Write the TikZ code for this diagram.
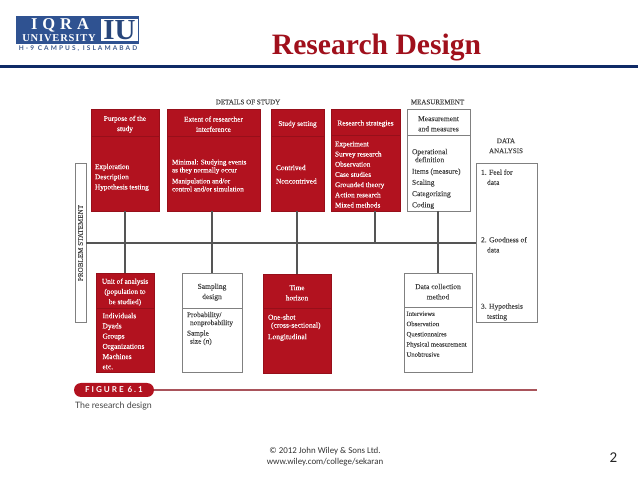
\documentclass[tikz,border=0pt]{standalone}
\usepackage{fontspec}
\setmainfont{Liberation Serif}
\newfontfamily\bodyf[FakeBold=0.1]{Liberation Serif}
\newfontfamily\carl{Carlito}
\newfontfamily\lat{Lato}
\definecolor{redb}{HTML}{B2121F}
\definecolor{redl}{HTML}{A9545B}
\definecolor{navy}{HTML}{0F2A66}
\definecolor{logob}{HTML}{2F5291}
\definecolor{conn}{HTML}{555555}
\definecolor{edge}{HTML}{808080}
\definecolor{txt}{HTML}{444444}
\newcommand{\dn}{\rule{0pt}{8.5pt}}
\tikzset{
  x=1pt,y=-1pt,
  every node/.style={inner sep=0pt,outer sep=0pt},
  redbox/.style={fill=redb,draw=redb!85!black,line width=0.7pt,anchor=north west,text=white,align=center,font=\bodyf\fontsize{7.3}{10.2}\selectfont},
  whitebox/.style={fill=white,draw=edge,line width=0.8pt,anchor=north west,text=txt,align=center,font=\bodyf\fontsize{7.5}{10.2}\selectfont},
  redtext/.style={anchor=north west,align=left,text=white,font=\bodyf\fontsize{7.25}{10.2}\selectfont},
  graytext/.style={anchor=north west,align=left,text=txt,font=\bodyf\fontsize{7.5}{10.2}\selectfont},
  headtext/.style={text=txt,align=center,font=\bodyf\fontsize{7}{10}\selectfont},
  link/.style={draw=conn,line width=1.3pt},
}
\begin{document}
\begin{tikzpicture}
\useasboundingbox (0,0) rectangle (638,478);
% header
\node[fill=logob,minimum width=123pt,minimum height=28pt,anchor=north west] (logo) at (16,16.3) {};
\node[fill=white,draw=logob,line width=0.8pt,minimum width=38pt,minimum height=23pt,anchor=north west] (logoiu) at (100.5,18.5) {\textcolor{logob!85!black}{\fontsize{29}{29}\selectfont\bfseries IU}};
\node[text=white] (iqra) at (60,25.5) {\fontsize{16.5}{16}\selectfont\bfseries\addfontfeature{LetterSpace=30}IQRA};
\node[text=white] (univ) at (59,38.5) {\fontsize{10.5}{10}\selectfont\bfseries\addfontfeature{LetterSpace=8}UNIVERSITY};
\node[text=logob!80!gray] (campus) at (78,48.3) {\lat\fontsize{6.5}{6}\selectfont\bfseries\addfontfeature{LetterSpace=32}H-9 CAMPUS, ISLAMABAD};
\fill[navy] (0,65) rectangle (638,68);
\node[text=redb!90!black] (title) at (376.5,47.5) {\fontsize{29.6}{29}\selectfont\bfseries Research Design};
% column heads
\node[headtext] (details) at (248,102) {DETAILS OF STUDY};
\node[headtext] (meas) at (437.5,102) {MEASUREMENT};
\node[headtext,anchor=north] (dataan) at (506,138.5) {DATA\\ANALYSIS};
% upper boxes
\node[redbox,minimum width=68pt,minimum height=27pt] (purposeH) at (91,109) {\dn Purpose of the\\study};
\node[redbox,minimum width=68pt,minimum height=75pt] (purposeB) at (91,136) {};
\node[redbox,minimum width=93pt,minimum height=27pt] (extentH) at (167,109) {\dn Extent of researcher\\interference};
\node[redbox,minimum width=93pt,minimum height=75pt] (extentB) at (167,136) {};
\node[redbox,minimum width=53pt,minimum height=27pt] (settingH) at (271,109) {\dn Study setting};
\node[redbox,minimum width=53pt,minimum height=75pt] (settingB) at (271,136) {};
\node[redbox,minimum width=69pt,minimum height=26pt] (stratH) at (331,109) {\dn Research strategies};
\node[redbox,minimum width=69pt,minimum height=76pt] (stratB) at (331,135) {};
\node[whitebox,minimum width=63pt,minimum height=26pt] (measH) at (407,109) {\dn Measurement\\and measures};
\node[whitebox,minimum width=63pt,minimum height=76pt] (measB) at (407,135) {};
\node[redtext] (purposeT) at (95,164) {Exploration\\Description\\Hypothesis testing};
\node[redtext,font=\bodyf\fontsize{7.1}{8}\selectfont] (extentT1) at (172,159.5) {Minimal: Studying events\\as they normally occur};
\node[redtext,font=\bodyf\fontsize{7.1}{8}\selectfont] (extentT2) at (172,178.5) {Manipulation and/or\\control and/or simulation};
\node[redtext,font=\bodyf\fontsize{7.4}{13.5}\selectfont] (settingT) at (276,165) {Contrived\\Noncontrived};
\node[redtext] (stratT) at (335,141.5) {Experiment\\Survey research\\Observation\\Case studies\\Grounded theory\\Action research\\Mixed methods};
\node[graytext,font=\bodyf\fontsize{7.5}{8}\selectfont] (measT1) at (412,149) {Operational\\\hspace*{3pt}definition};
\node[graytext,font=\bodyf\fontsize{7.5}{11.2}\selectfont] (measT2) at (412,168.5) {Items (measure)\\Scaling\\Categorizing\\Coding};
% side boxes
\node[whitebox,minimum width=61pt,minimum height=159pt] (analysis) at (476,163) {};
\node[graytext] (an1) at (481,169.5) {1. Feel for\\\hspace*{6pt}data};
\node[graytext] (an2) at (481,237) {2. Goodness of\\\hspace*{6pt}data};
\node[graytext] (an3) at (481,303.5) {3. Hypothesis\\\hspace*{6pt}testing};
\node[whitebox,minimum width=11pt,minimum height=159pt] (problem) at (75,163) {};
\node[text=txt,rotate=90,anchor=center,font=\bodyf\fontsize{7.1}{7}\selectfont] (problemT) at (80.5,243) {PROBLEM STATEMENT};
% lower boxes
\node[redbox,minimum width=58pt,minimum height=35pt] (unitH) at (96,273) {\dn Unit of analysis\\(population to\\be studied)};
\node[redbox,minimum width=58pt,minimum height=64pt] (unitB) at (96,308) {};
\node[whitebox,minimum width=60pt,minimum height=35pt] (sampH) at (182,273) {\dn Sampling\\design};
\node[whitebox,minimum width=60pt,minimum height=64pt] (sampB) at (182,308) {};
\node[redbox,minimum width=68pt,minimum height=34pt] (timeH) at (263,274) {\dn Time\\horizon};
\node[redbox,minimum width=68pt,minimum height=65pt] (timeB) at (263,308) {};
\node[whitebox,minimum width=68pt,minimum height=34pt] (collH) at (404,273) {\dn Data collection\\method};
\node[whitebox,minimum width=68pt,minimum height=65pt] (collB) at (404,307) {};
\node[redtext,font=\bodyf\fontsize{7.5}{10.2}\selectfont] (unitT) at (102.5,313) {Individuals\\Dyads\\Groups\\Organizations\\Machines\\etc.};
\node[graytext,font=\bodyf\fontsize{7.3}{8}\selectfont] (sampT1) at (187,312) {Probability/\\\hspace*{3pt}nonprobability};
\node[graytext,font=\bodyf\fontsize{7.3}{8}\selectfont] (sampT2) at (187,330.5) {Sample\\\hspace*{3pt}size (\textit{n})};
\node[redtext,font=\bodyf\fontsize{7.5}{8}\selectfont] (timeT1) at (268,314.5) {One-shot\\\hspace*{3pt}(cross-sectional)};
\node[redtext,font=\bodyf\fontsize{7.5}{8}\selectfont] (timeT2) at (268,334) {Longitudinal};
\node[graytext,font=\bodyf\fontsize{6.7}{10.2}\selectfont] (collT) at (406.5,311.5) {Interviews\\Observation\\Questionnaires\\Physical measurement\\Unobtrusive};
% connectors
\coordinate (bus) at (0,243);
\draw[link] (problem.east |- bus) -- (analysis.west |- bus);
\draw[link] (purposeB.south) -- (purposeB.south |- bus);
\draw[link] ([xshift=-1.5pt]extentB.south) -- ([xshift=-1.5pt]extentB.south |- bus);
\draw[link] ([xshift=-0.5pt]settingB.south) -- ([xshift=-0.5pt]settingB.south |- bus);
\draw[link] ([xshift=9.5pt]stratB.south) -- ([xshift=9.5pt]stratB.south |- bus);
\draw[link] ([xshift=-0.5pt]measB.south) -- ([xshift=-0.5pt]measB.south |- bus);
\draw[link] (unitH.north) -- (unitH.north |- bus);
\draw[link] (sampH.north) -- (sampH.north |- bus);
\draw[link] (timeH.north) -- (timeH.north |- bus);
\draw[link] (collH.north) -- (collH.north |- bus);
% figure caption
\coordinate (capend) at (537,390);
\draw[draw=redl,line width=1.2pt] (150,390) -- (capend);
\node[fill=redb,rounded corners=7pt,minimum width=80pt,minimum height=14pt,anchor=north west,text=white] (pill) at (74,383) {\lat\fontsize{8.1}{8}\selectfont\bfseries\addfontfeature{LetterSpace=24}FIGURE 6.1};
\node[anchor=west,text=txt] (caption) at (75,406) {\lat\fontsize{8.8}{10}\selectfont The research design};
% footer
\node[align=center,text=black!80,font=\carl\fontsize{8.9}{11}\selectfont] (foot) at (325,457) {© 2012 John Wiley \& Sons Ltd.\\www.wiley.com/college/sekaran};
\node[text=black!85] (page) at (613.5,457.5) {\carl\fontsize{15}{15}\selectfont 2};
\end{tikzpicture}
\end{document}
